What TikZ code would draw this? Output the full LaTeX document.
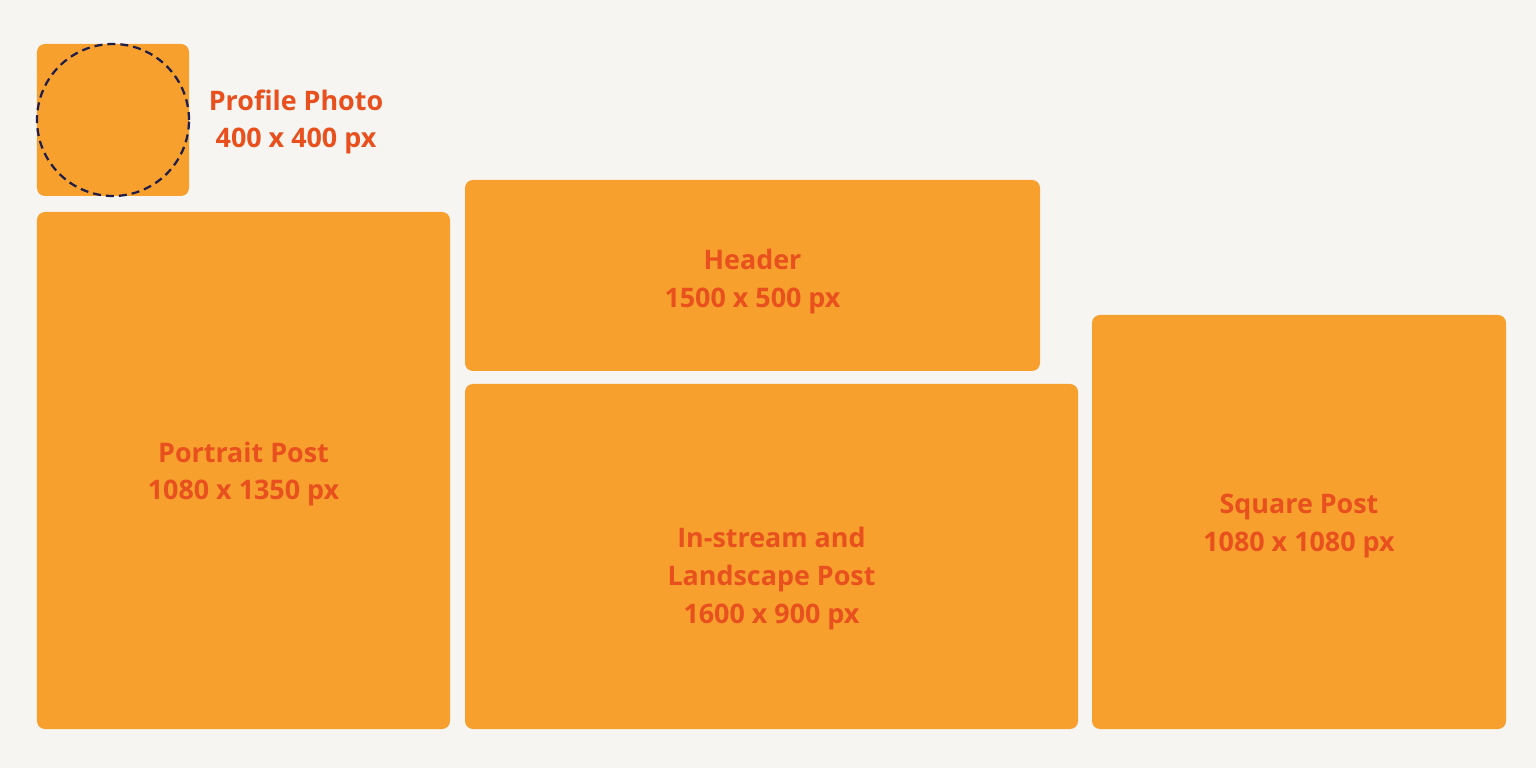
\documentclass[tikz,border=0pt]{standalone}
\usepackage{fontspec}
\setmainfont{Open Sans}
\usepackage{xcolor}
\usetikzlibrary{positioning}

\definecolor{pagebg}{HTML}{F6F5F2}
\definecolor{postfill}{HTML}{F7A02E}
\definecolor{posttext}{HTML}{E8501E}
\definecolor{ringline}{HTML}{1F1D4A}

\begin{document}
\begin{tikzpicture}[
    x=0.2mm, y=-0.2mm,
    font=\bfseries\fontsize{15.3}{21.4}\selectfont,
    post/.style={
        rectangle,
        rounded corners=1.6mm,
        fill=postfill,
        draw=none,
        inner sep=0pt
    },
    sizelabel/.style={
        text=posttext,
        align=center,
        inner sep=0pt
    }
]

% page background, fixes the margins
\fill [pagebg] (0,0) rectangle (1536,768);

% === PROFILE PHOTO ===
\node (profile) [post, minimum width=30.4mm, minimum height=30.4mm] at (113,120) {};
\draw [ringline, line width=0.45mm, dash pattern=on 1.6mm off 1.0mm] (profile.center) circle (15.2mm);
\node (profilelabel) [sizelabel] at (296,122) {Profile Photo\\400 x 400 px};

% === PORTRAIT POST ===
\node (portrait) [post, minimum width=82.6mm, minimum height=103.4mm] at (243.5,470.5) {};
\node (portraitlabel) [sizelabel, yshift=-0.7mm] at (portrait.center) {Portrait Post\\1080 x 1350 px};

% === HEADER ===
\node (header) [post, minimum width=115mm, minimum height=38.2mm] at (752.5,275.5) {};
\node (headerlabel) [sizelabel, yshift=-1.2mm] at (header.center) {Header\\1500 x 500 px};

% === IN-STREAM AND LANDSCAPE POST ===
\node (landscape) [post, minimum width=122.6mm, minimum height=69mm] at (771.5,556.5) {};
\node (landscapelabel) [sizelabel, yshift=-4.4mm] at (landscape.center) {In-stream and\\Landscape Post\\1600 x 900 px};

% === SQUARE POST ===
\node (square) [post, minimum width=82.8mm, minimum height=82.8mm] at (1299,522) {};
\node (squarelabel) [sizelabel, yshift=-0.8mm] at (square.center) {Square Post\\1080 x 1080 px};

\end{tikzpicture}
\end{document}
